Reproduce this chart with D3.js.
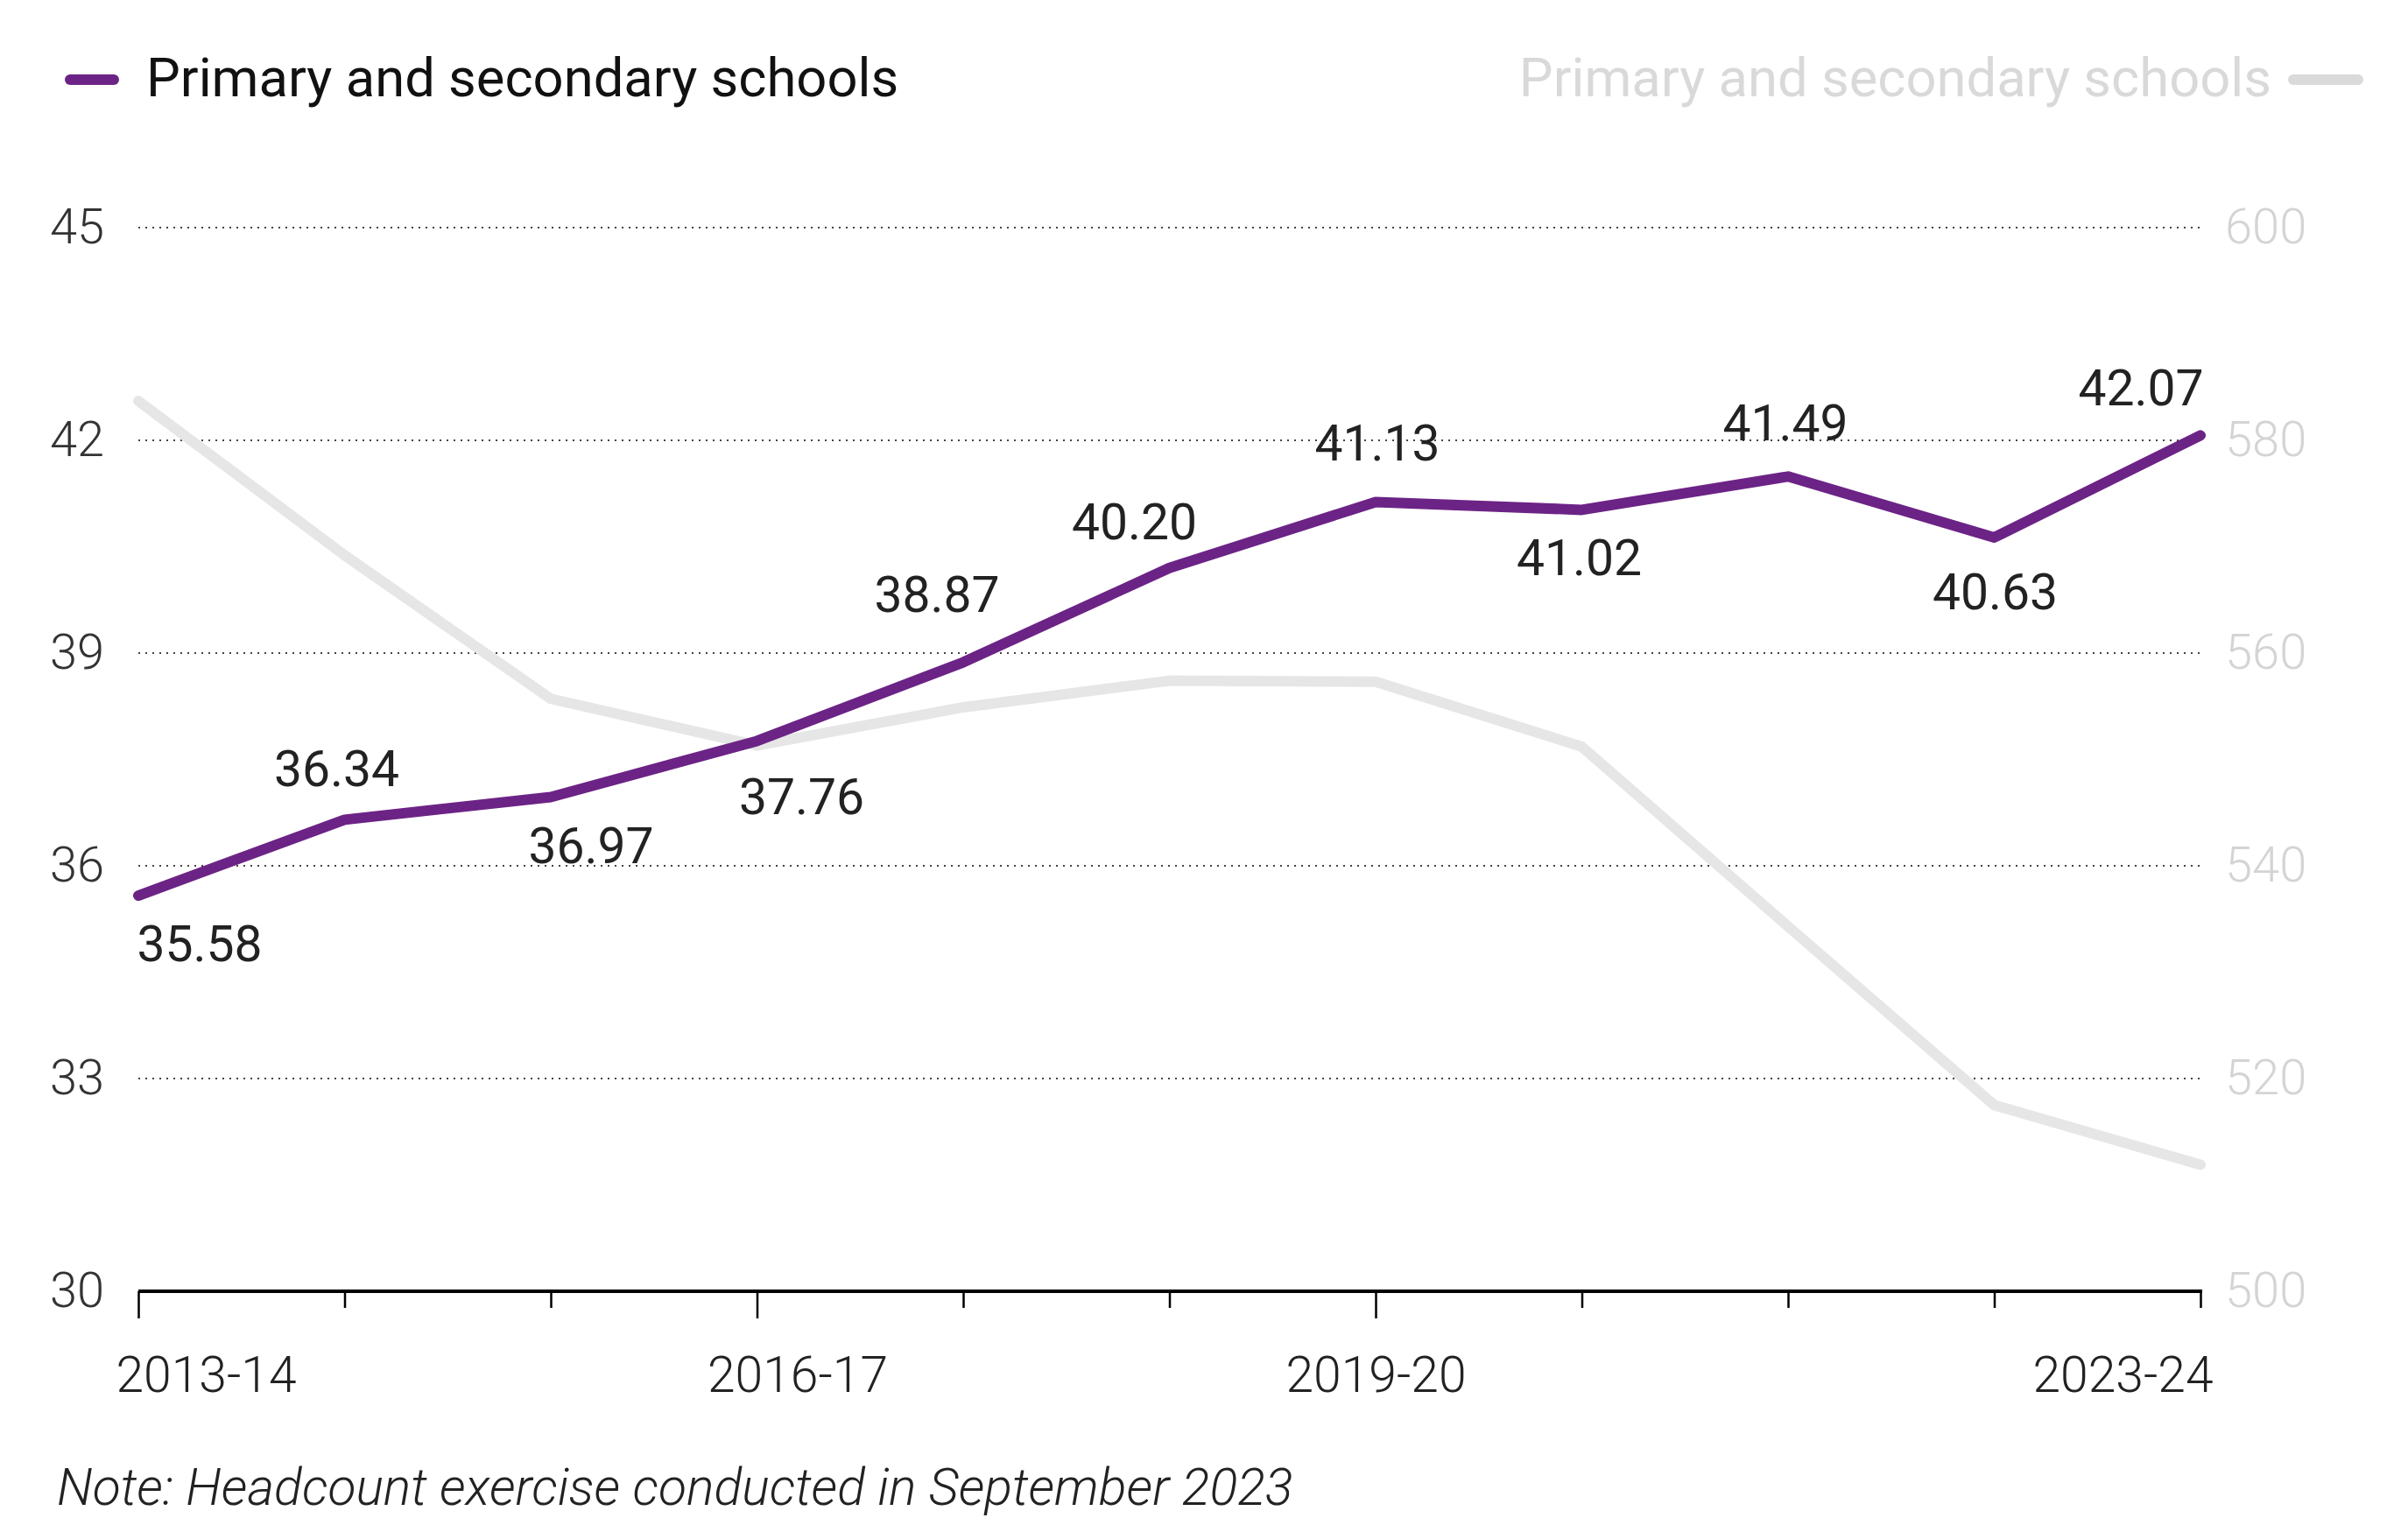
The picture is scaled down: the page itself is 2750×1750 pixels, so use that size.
<!DOCTYPE html>
<html>
<head>
<meta charset="utf-8">
<script src="https://cdn.jsdelivr.net/npm/d3@7"></script>
<style>
  body { margin: 0; background: #fff; }
  text { font-family: Roboto, "Noto Sans", sans-serif; }
</style>
</head>
<body>
<div class="chart"></div>
<script>
var years = ["2013-14", "2014-15", "2015-16", "2016-17", "2017-18", "2018-19",
  "2019-20", "2020-21", "2021-22", "2022-23", "2023-24"];
var ratio = [35.58, 36.65, 36.97, 37.76, 38.87, 40.20, 41.13, 41.02, 41.49, 40.63, 42.07];
var ratioLabels = ["35.58", "36.34", "36.97", "37.76", "38.87", "40.20", "41.13", "41.02", "41.49", "40.63", "42.07"];
var schools = [583.7, 569.2, 555.7, 551.3, 554.9, 557.4, 557.3, 551.2, 534.3, 517.5, 511.9];
var leftTicks = [30, 33, 36, 39, 42, 45];
var rightTicks = [500, 520, 540, 560, 580, 600];
var shownYears = ["2013-14", "2016-17", "2019-20", "2023-24"];
var seriesName = "Primary and secondary schools";
var note = "Note: Headcount exercise conducted in September 2023";

// label nudges [dx, dy] from each point
var labelNudge = [[70, 75], [-9, -38], [46, 76], [51, 84], [-30, -58], [-40, -33],
  [2, -47], [-3, 75], [-3, -41], [1, 82], [-68, -34]];

var svgWidth = 2750;
var svgHeight = 1750;
var purple = "#6c2386";
var grey = "#e6e6e6";

var svg = d3.select(".chart")
  .append("svg")
  .attr("width", svgWidth)
  .attr("height", svgHeight);

var x = d3.scalePoint().domain(years).range([158, 2513]);
var yLeft = d3.scaleLinear().domain([30, 45]).range([1475, 260]);
var yRight = d3.scaleLinear().domain([500, 600]).range([1475, 260]);

// dotted gridlines
svg.append("g").selectAll("line")
  .data(leftTicks.slice(1))
  .enter().append("line")
    .attr("x1", 158)
    .attr("x2", 2513)
    .attr("y1", function(d) { return yLeft(d); })
    .attr("y2", function(d) { return yLeft(d); })
    .attr("stroke", "#444")
    .attr("stroke-width", 2)
    .attr("stroke-dasharray", "2,6");

// left axis labels
var leftAxis = svg.append("g")
  .attr("transform", "translate(119,0)")
  .call(d3.axisLeft(yLeft).tickValues(leftTicks).tickSize(0).tickPadding(0));
leftAxis.select(".domain").remove();
leftAxis.selectAll("text")
  .attr("font-size", 56)
  .attr("font-weight", 300)
  .attr("fill", "#333")
  .attr("font-family", "Roboto");

// right axis labels
var rightAxis = svg.append("g")
  .attr("transform", "translate(2541,0)")
  .call(d3.axisRight(yRight).tickValues(rightTicks).tickSize(0).tickPadding(0));
rightAxis.select(".domain").remove();
rightAxis.selectAll("text")
  .attr("font-size", 56)
  .attr("font-weight", 300)
  .attr("fill", "#d4d4d4")
  .attr("font-family", "Roboto");

// x axis
var bottomAxis = svg.append("g")
  .attr("transform", "translate(0,1475)")
  .call(d3.axisBottom(x).tickSize(31).tickPadding(44)
    .tickFormat(function(d) { return shownYears.indexOf(d) >= 0 ? d : ""; }));
bottomAxis.select(".domain").remove();
bottomAxis.selectAll(".tick line")
  .attr("stroke", "#000")
  .attr("stroke-width", 2.5)
  .attr("y2", function(d) { return shownYears.indexOf(d) >= 0 && d != "2023-24" ? 31 : 19; });
bottomAxis.selectAll("text")
  .attr("font-size", 57)
  .attr("font-weight", 300)
  .attr("fill", "#222")
  .attr("font-family", "Roboto")
  .attr("text-anchor", function(d) {
    if (d == "2013-14") return "start";
    if (d == "2023-24") return "end";
    return "middle";
  })
  .attr("dx", function(d) {
    if (d == "2013-14") return -26;
    if (d == "2016-17") return 46;
    if (d == "2023-24") return 14;
    return 0;
  });

svg.append("line")
  .attr("x1", 158)
  .attr("x2", 2515)
  .attr("y1", 1475)
  .attr("y2", 1475)
  .attr("stroke", "#000")
  .attr("stroke-width", 4);

// grey series on right axis
var greyLine = d3.line()
  .x(function(d, i) { return x(years[i]); })
  .y(function(d) { return yRight(d); });

svg.append("path")
  .datum(schools)
  .attr("d", greyLine)
  .attr("fill", "none")
  .attr("stroke", grey)
  .attr("stroke-width", 12)
  .attr("stroke-linecap", "round")
  .attr("stroke-linejoin", "round");

// purple series on left axis
var purpleLine = d3.line()
  .x(function(d, i) { return x(years[i]); })
  .y(function(d) { return yLeft(d); });

svg.append("path")
  .datum(ratio)
  .attr("d", purpleLine)
  .attr("fill", "none")
  .attr("stroke", purple)
  .attr("stroke-width", 12)
  .attr("stroke-linecap", "round")
  .attr("stroke-linejoin", "round");

svg.append("g").selectAll("text")
  .data(ratio)
  .enter().append("text")
    .attr("x", function(d, i) { return x(years[i]) + labelNudge[i][0]; })
    .attr("y", function(d, i) { return yLeft(d) + labelNudge[i][1]; })
    .attr("text-anchor", "middle")
    .attr("font-size", 57)
    .attr("fill", "#222")
    .text(function(d, i) { return ratioLabels[i]; });

// legends
svg.append("line")
  .attr("x1", 80).attr("x2", 130)
  .attr("y1", 91).attr("y2", 91)
  .attr("stroke", purple)
  .attr("stroke-width", 12)
  .attr("stroke-linecap", "round");

svg.append("text")
  .attr("x", 167)
  .attr("y", 110)
  .attr("font-size", 61.5)
  .attr("fill", "#111")
  .text(seriesName);

svg.append("line")
  .attr("x1", 2619).attr("x2", 2693)
  .attr("y1", 91).attr("y2", 91)
  .attr("stroke", "#dadada")
  .attr("stroke-width", 12)
  .attr("stroke-linecap", "round");

svg.append("text")
  .attr("x", 2594)
  .attr("y", 110)
  .attr("text-anchor", "end")
  .attr("font-size", 61.5)
  .attr("fill", "#d9d9d9")
  .text(seriesName);

// note
svg.append("text")
  .attr("x", 65)
  .attr("y", 1719)
  .attr("font-size", 59)
  .attr("font-style", "italic")
  .attr("font-weight", 300)
  .attr("fill", "#222")
  .text(note);
</script>
</body>
</html>
